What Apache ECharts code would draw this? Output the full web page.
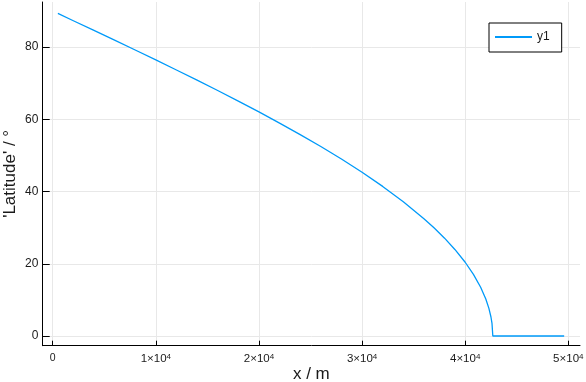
<!DOCTYPE html>
<html><head><meta charset="utf-8">
<script src="https://cdn.jsdelivr.net/npm/echarts@6/dist/echarts.min.js"></script>
<style>html,body{margin:0;padding:0;background:#fff}#c{width:586px;height:382px}</style>
</head><body><div id="c"></div>
<script>
const xValues = [500, 2000, 4000, 6000, 8000, 10000, 12000, 14000, 16000, 18000, 20000, 22000, 24000, 26000, 28000, 30000, 32000, 34000, 36000, 37000, 38000, 39000, 40000, 40800, 41500, 42000, 42300, 42500, 42600, 42680, 42700, 49600];
const latitude = [89.33, 87.31, 84.62, 81.92, 79.20, 76.45, 73.67, 70.85, 67.98, 65.06, 62.05, 58.97, 55.78, 52.47, 49.00, 45.34, 41.43, 37.19, 32.48, 29.89, 27.09, 23.97, 20.42, 17.06, 13.51, 10.24, 7.65, 5.26, 3.51, 0, 0, 0];
const xTicks = [0, 10000, 20000, 30000, 40000, 50000];
const yTicks = [0, 20, 40, 60, 80];
const seriesName = 'y1';

const FONT = 'Liberation Sans';
const TXT = '#1a1a1a';
const chart = echarts.init(document.getElementById('c'), null, {renderer: 'canvas'});
chart.setOption({
  animation: false,
  backgroundColor: '#ffffff',
  textStyle: {fontFamily: FONT},
  grid: {left: 42.7, top: 2, right: 6, bottom: 36.3, containLabel: false, outerBoundsMode: 'none'},
  legend: {
    data: [{name: seriesName, icon: 'rect'}],
    left: 489, top: 23,
    orient: 'horizontal',
    itemWidth: 37, itemHeight: 2,
    padding: [8, 12, 9, 6],
    borderColor: '#000', borderWidth: 1,
    backgroundColor: '#fff',
    textStyle: {fontFamily: FONT, fontSize: 12, color: TXT}
  },
  xAxis: {
    type: 'value',
    min: -970, max: 51135,
    name: 'x / m', nameLocation: 'middle', nameGap: 20, nameMoveOverlap: false,
    nameTextStyle: {fontFamily: FONT, fontSize: 17, color: TXT},
    axisLine: {show: true, onZero: false, lineStyle: {color: '#000', width: 1}},
    axisTick: {show: true, inside: true, length: 5, customValues: xTicks, lineStyle: {color: '#000'}},
    axisLabel: {
      customValues: xTicks, margin: 7.3, color: TXT, fontFamily: FONT, fontSize: 11,
      formatter: function (v) { return v === 0 ? '{z|0}' : '{a|' + (v / 10000) + '×10}{b|4}'; },
      rich: {
        z: {fontSize: 10.5, lineHeight: 7, fontFamily: FONT, color: TXT, verticalAlign: 'top'},
        a: {fontSize: 11.5, lineHeight: 16, fontFamily: FONT, color: TXT, verticalAlign: 'top'},
        b: {fontSize: 8, lineHeight: 6, fontFamily: FONT, color: TXT, verticalAlign: 'top'}
      }
    },
    splitLine: {show: true, lineStyle: {color: '#e8e8e8', width: 1}}
  },
  yAxis: {
    type: 'value',
    min: -2.69, max: 92.5,
    name: "'Latitude' / °", nameLocation: 'middle', nameGap: 24, nameMoveOverlap: false,
    nameTextStyle: {fontFamily: FONT, fontSize: 17, color: TXT},
    axisLine: {show: true, onZero: false, lineStyle: {color: '#000', width: 1}},
    axisTick: {show: true, inside: true, length: 7, customValues: yTicks, lineStyle: {color: '#000'}},
    axisLabel: {customValues: yTicks, margin: 4.4, color: TXT, fontFamily: FONT, fontSize: 12},
    splitLine: {show: true, lineStyle: {color: '#e8e8e8', width: 1}}
  },
  series: [{
    name: seriesName,
    type: 'line',
    data: xValues.map((x, i) => [x, latitude[i]]),
    showSymbol: false, symbol: 'none',
    lineStyle: {color: '#009af9', width: 1.3},
    itemStyle: {color: '#009af9'}
  }]
});
</script></body></html>
